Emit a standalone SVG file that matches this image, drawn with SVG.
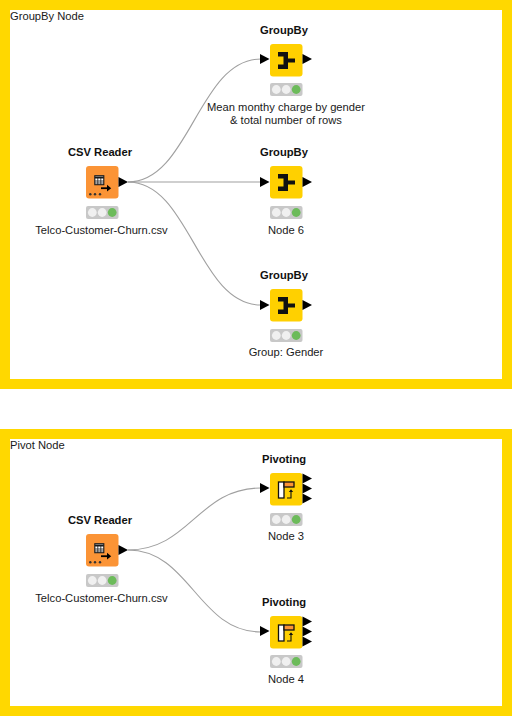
<svg xmlns="http://www.w3.org/2000/svg" xmlns:xlink="http://www.w3.org/1999/xlink" width="512" height="716" viewBox="0 0 512 716">
<style>
text{font-family:"Liberation Sans",Arial,sans-serif;font-size:11.2px;fill:#1a1a1a;text-anchor:middle}
.t{font-weight:700;fill:#111}
.a{text-anchor:start}
.c{fill:none;stroke:#a0a0a0;stroke-width:1.1}
</style>
<defs>
<g id="status">
<rect x="0" y="0" width="32.500" height="13" rx="2" fill="#c8c8c8"/>
<circle cx="6.300" cy="6.500" r="4.400" fill="#f0f0f0"/>
<circle cx="16.200" cy="6.500" r="4.400" fill="#f0f0f0"/>
<circle cx="26.200" cy="6.500" r="4.400" fill="#6cbb5a"/>
</g>
<path id="tri" d="M0 0L9.500 5L0 10Z" fill="#000"/>
<g id="csv">
<rect x="0" y="0" width="32.500" height="32.500" rx="3" fill="#fb9436"/>
<rect x="8.800" y="9.700" width="9" height="9" fill="#fff" stroke="#1a1a1a" stroke-width="1.100"/>
<path d="M8.800 11.500H17.800" stroke="#1a1a1a" stroke-width="2" fill="none"/>
<path d="M8.800 15H17.800M8.800 17H17.800M11.800 11.500V18.700M14.800 11.500V18.700" stroke="#1a1a1a" stroke-width="0.800" fill="none"/>
<path d="M15 22.200H22" stroke="#000" stroke-width="1.800"/>
<path d="M21 18.800L25.200 22.200L21 25.600Z" fill="#000"/>
<circle cx="4.300" cy="28.300" r="1.200" fill="#333"/><circle cx="9" cy="28.300" r="1.200" fill="#333"/><circle cx="14" cy="28.300" r="1.200" fill="#333"/>
</g>
<g id="gb">
<rect x="0" y="0" width="32.500" height="32.500" rx="3" fill="#ffd000"/>
<path d="M8 8H18V14.500H25V18.500H18V25H8V20.500H13.500V12.500H8Z" fill="#111"/>
</g>
<g id="pv">
<rect x="0" y="0" width="32.500" height="32.500" rx="3" fill="#ffd000"/>
<rect x="8.500" y="9" width="5.500" height="16" fill="#fff" stroke="#111" stroke-width="1.300"/>
<rect x="14" y="9" width="10" height="5" fill="#fb9436" stroke="#111" stroke-width="1.300"/>
<path d="M17 25H21V19" fill="none" stroke="#111" stroke-width="1.100"/>
<path d="M18.800 19L21 16.300L23.200 19Z" fill="#111"/>
</g>
</defs>

<g id="annotation-groupby">
<rect x="5" y="5" width="502" height="379" fill="#fff" stroke="#ffd800" stroke-width="10"/>
<text class="a" x="10" y="20">GroupBy Node</text>
</g>
<g id="annotation-pivot">
<rect x="5" y="434" width="502" height="277" fill="#fff" stroke="#ffd800" stroke-width="10"/>
<text class="a" x="10" y="449">Pivot Node</text>
</g>

<g id="connectors">
<path class="c" d="M128 182C190 182 198 59 261 59"/>
<path class="c" d="M128 182H261"/>
<path class="c" d="M128 182C190 182 198 305 261 305"/>
<path class="c" d="M128 550C190 550 198 488 261 488"/>
<path class="c" d="M128 550C190 550 198 632 261 632"/>
</g>

<g id="csv1">
<text class="t" x="100" y="156">CSV Reader</text>
<use xlink:href="#csv" x="86" y="166"/>
<use xlink:href="#tri" x="118.500" y="177"/>
<use xlink:href="#status" x="86" y="206"/>
<text x="101.500" y="234">Telco-Customer-Churn.csv</text>
</g>
<g id="groupby1">
<text class="t" x="284" y="34">GroupBy</text>
<use xlink:href="#tri" x="260" y="54"/>
<use xlink:href="#gb" x="270" y="44"/>
<use xlink:href="#tri" x="302.500" y="54"/>
<use xlink:href="#status" x="270" y="83"/>
<text x="286" y="111">Mean monthy charge by gender</text>
<text x="286" y="124">&amp; total number of rows</text>
</g>
<g id="groupby2">
<text class="t" x="284" y="156">GroupBy</text>
<use xlink:href="#tri" x="260" y="177"/>
<use xlink:href="#gb" x="270" y="166"/>
<use xlink:href="#tri" x="302.500" y="177"/>
<use xlink:href="#status" x="270" y="206"/>
<text x="286" y="234">Node 6</text>
</g>
<g id="groupby3">
<text class="t" x="284" y="279">GroupBy</text>
<use xlink:href="#tri" x="260" y="300"/>
<use xlink:href="#gb" x="270" y="289"/>
<use xlink:href="#tri" x="302.500" y="300"/>
<use xlink:href="#status" x="270" y="329"/>
<text x="286" y="356">Group: Gender</text>
</g>
<g id="csv2">
<text class="t" x="100" y="524">CSV Reader</text>
<use xlink:href="#csv" x="86" y="534"/>
<use xlink:href="#tri" x="118.500" y="545"/>
<use xlink:href="#status" x="86" y="574"/>
<text x="101.500" y="602">Telco-Customer-Churn.csv</text>
</g>
<g id="pivot1">
<text class="t" x="284" y="463">Pivoting</text>
<use xlink:href="#tri" x="260" y="483"/>
<use xlink:href="#pv" x="270" y="473"/>
<use xlink:href="#tri" x="302.500" y="473.500"/><use xlink:href="#tri" x="302.500" y="483.500"/><use xlink:href="#tri" x="302.500" y="493.500"/>
<use xlink:href="#status" x="270" y="513"/>
<text x="286" y="540">Node 3</text>
</g>
<g id="pivot2">
<text class="t" x="284" y="606">Pivoting</text>
<use xlink:href="#tri" x="260" y="626"/>
<use xlink:href="#pv" x="270" y="616"/>
<use xlink:href="#tri" x="302.500" y="616.500"/><use xlink:href="#tri" x="302.500" y="626.500"/><use xlink:href="#tri" x="302.500" y="636.500"/>
<use xlink:href="#status" x="270" y="655"/>
<text x="286" y="683">Node 4</text>
</g>
</svg>
